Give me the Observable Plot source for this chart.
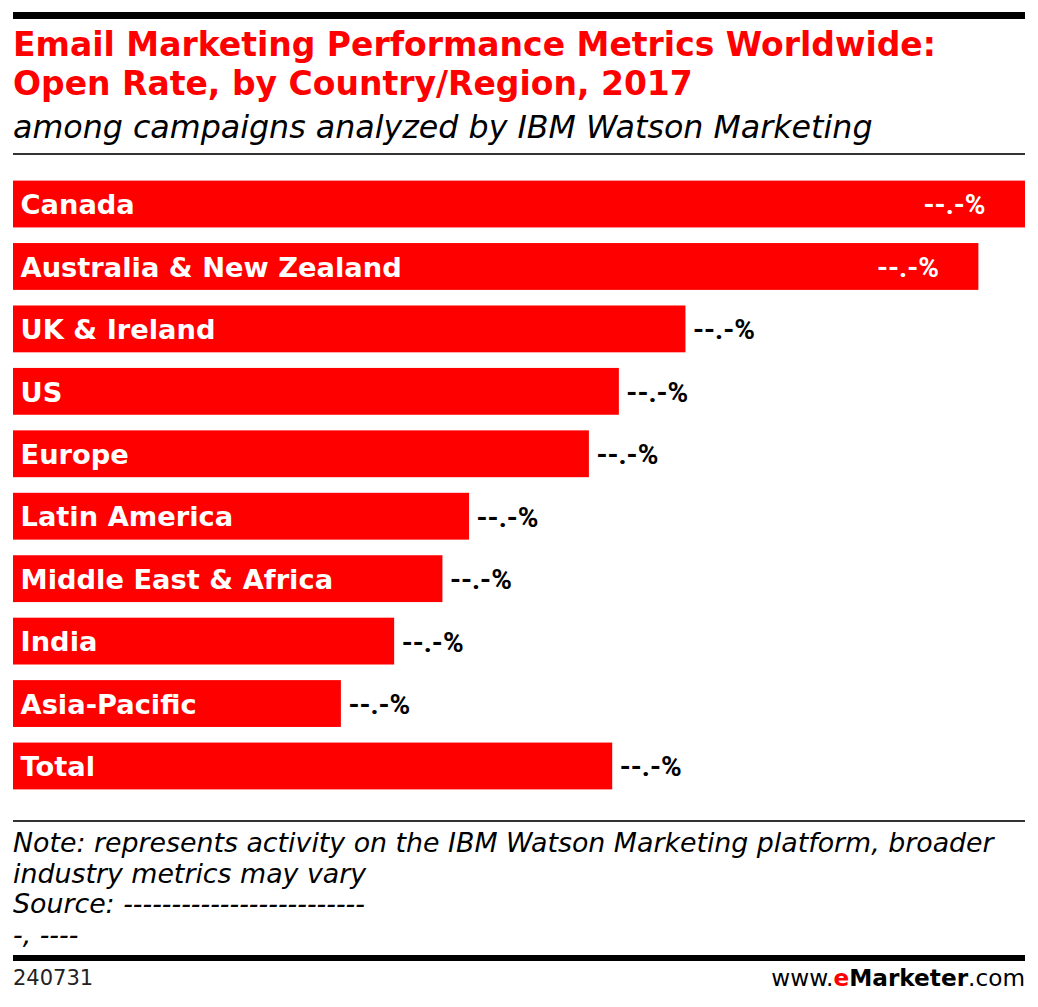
<!DOCTYPE html>
<html>
<head>
<meta charset="utf-8">
<script src="https://cdn.jsdelivr.net/npm/d3@7"></script>
<script src="https://cdn.jsdelivr.net/npm/@observablehq/plot@0.6"></script>
<style>
  html, body { margin: 0; padding: 0; background: #fff; }
  body { width: 1038px; height: 1007px; position: relative; overflow: hidden; font-family: "DejaVu Sans", sans-serif; }
  .abs { position: absolute; }
  .rule-thick { left: 13px; width: 1012px; height: 7px; background: #000; }
  .rule-thin { left: 13px; width: 1012px; height: 2px; background: #333; }
  #title { left: 13px; top: 25px; font-size: 33px; line-height: 39px; font-weight: 700; color: #ff0000; white-space: nowrap; }
  #subtitle { left: 13px; top: 112px; font-size: 31.7px; line-height: 31px; font-style: italic; font-weight: 400; color: #000; white-space: nowrap; }
  #note { left: 13px; top: 828px; font-size: 26.8px; line-height: 30.5px; font-style: italic; font-weight: 400; color: #000; white-space: nowrap; }
  #chart { left: 0; top: 160px; }
  #code { left: 13px; top: 965px; font-size: 21px; line-height: 26px; color: #222; }
  #brand { right: 13px; top: 964px; font-size: 23.2px; line-height: 28px; color: #000; }
  #brand .e { color: #ff0000; font-weight: 700; }
  #brand b { font-weight: 700; }
</style>
</head>
<body>
<div class="abs rule-thick" style="top:12px"></div>
<div id="title" class="abs">Email Marketing Performance Metrics Worldwide:<br>Open Rate, by Country/Region, 2017</div>
<div id="subtitle" class="abs">among campaigns analyzed by IBM Watson Marketing</div>
<div class="abs rule-thin" style="top:153px; height:1.5px"></div>
<div id="chart" class="abs"></div>
<div class="abs rule-thin" style="top:820px; height:1.5px"></div>
<div id="note" class="abs">Note: represents activity on the IBM Watson Marketing platform, broader<br>industry metrics may vary<br>Source: -------------------------<br>-, ----</div>
<div class="abs rule-thick" style="top:955px; height:6px"></div>
<div id="code" class="abs">240731</div>
<div id="brand" class="abs">www.<span class="e">e</span><b>Marketer</b>.com</div>
<script>
const categories = ["Canada", "Australia & New Zealand", "UK & Ireland", "US", "Europe", "Latin America", "Middle East & Africa", "India", "Asia-Pacific", "Total"];
const values = [30.4, 29.0, 20.2, 18.2, 17.3, 13.7, 12.9, 11.45, 9.85, 18.0];
const labels = ["--.-%", "--.-%", "--.-%", "--.-%", "--.-%", "--.-%", "--.-%", "--.-%", "--.-%", "--.-%"];

const data = categories.map((c, i) => ({category: c, value: values[i], label: labels[i]}));
const insideThreshold = 25;

const chart = Plot.plot({
  width: 1038,
  height: 660,
  marginLeft: 13,
  marginRight: 13,
  marginTop: 5,
  marginBottom: 15,
  style: {fontFamily: "'DejaVu Sans', sans-serif", background: "transparent"},
  x: {domain: [0, 30.4], axis: null},
  y: {domain: categories, padding: 0.25, round: false, axis: null},
  marks: [
    Plot.barX(data, {y: "category", x: "value", fill: "#ff0000"}),
    Plot.text(data, {y: "category", x: 0, text: "category", textAnchor: "start", dx: 7, dy: 1, fill: "#fff", fontWeight: 700, fontSize: 27.3}),
    Plot.text(data.filter(d => d.value > insideThreshold), {y: "category", x: "value", text: "label", textAnchor: "end", dx: -40, dy: 1, fill: "#fff", fontWeight: 700, fontSize: 28, fontFamily: "Roboto"}),
    Plot.text(data.filter(d => d.value <= insideThreshold), {y: "category", x: "value", text: "label", textAnchor: "start", dx: 7, dy: 1, fill: "#000", fontWeight: 700, fontSize: 28, fontFamily: "Roboto"})
  ]
});
document.getElementById("chart").appendChild(chart);
</script>
</body>
</html>
